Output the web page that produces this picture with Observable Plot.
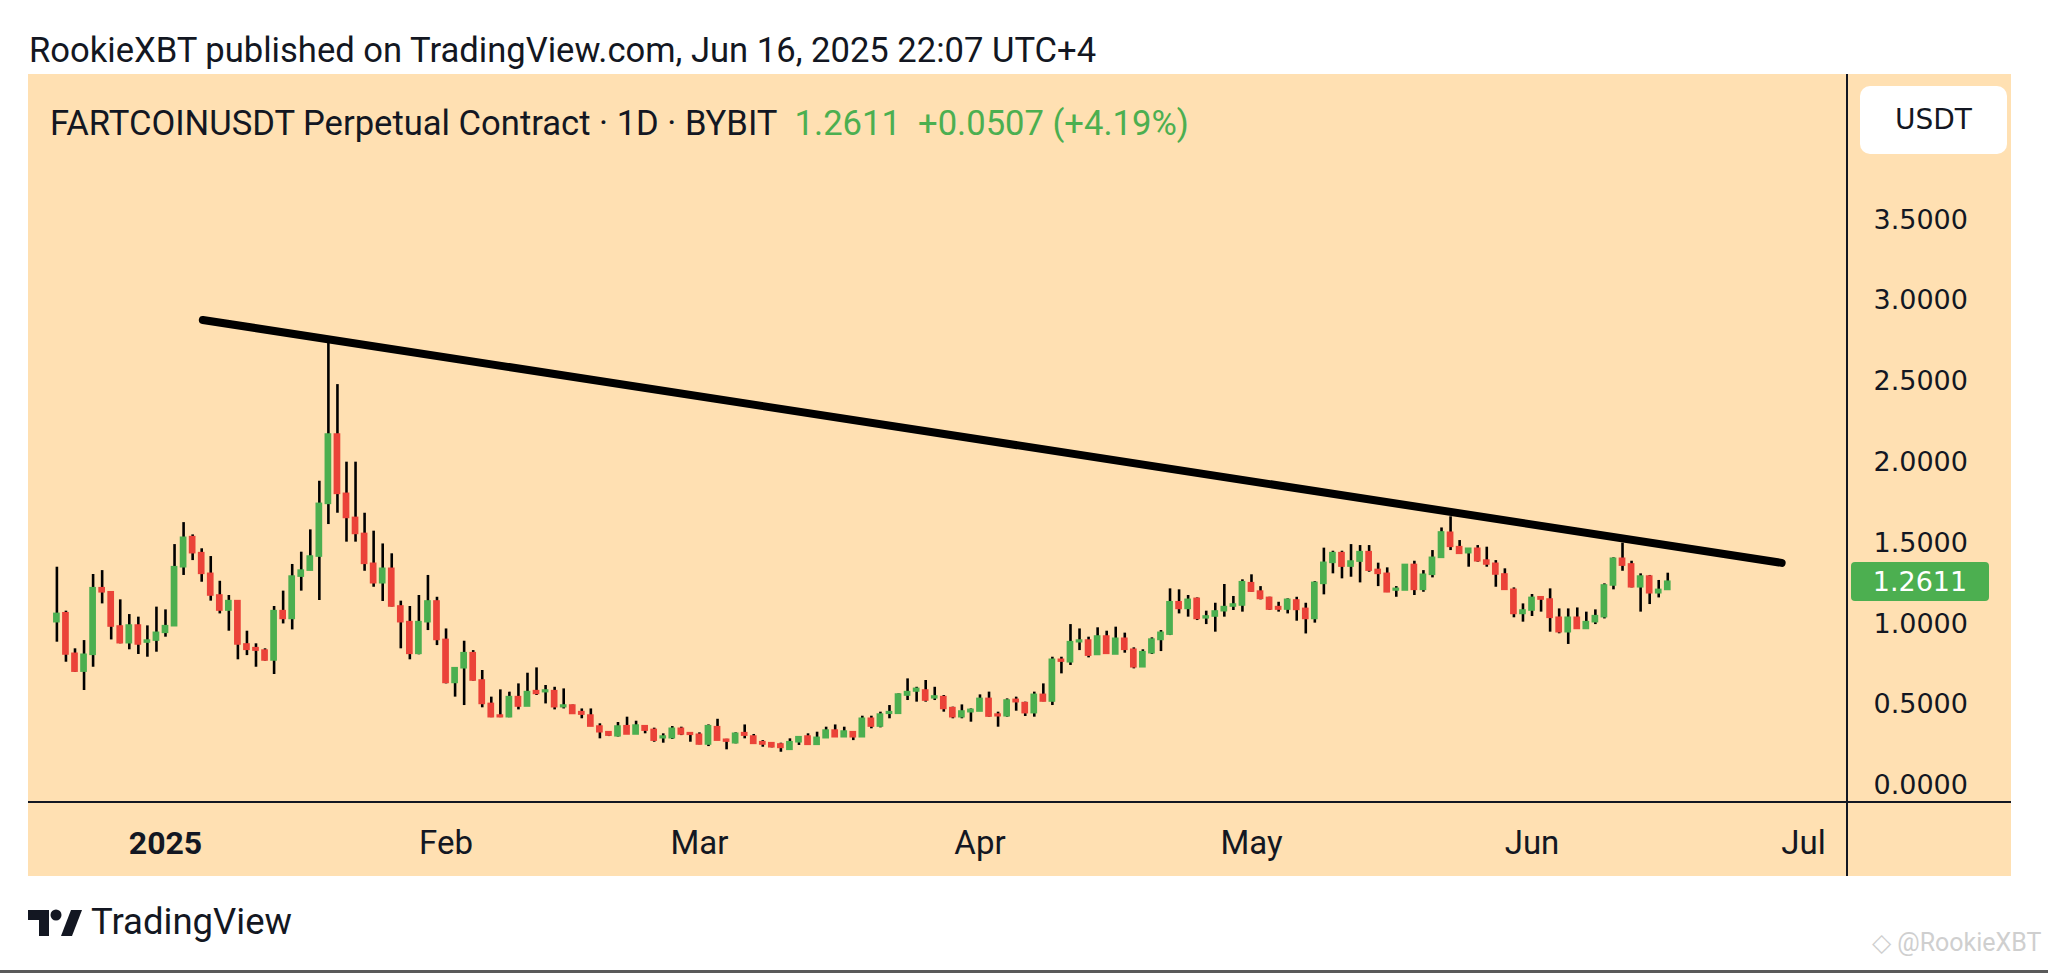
<!DOCTYPE html>
<html><head><meta charset="utf-8">
<script src="https://cdn.jsdelivr.net/npm/d3@7"></script>
<script src="https://cdn.jsdelivr.net/npm/@observablehq/plot@0.6"></script>
<style>
html,body{margin:0;padding:0;background:#fff;}
#root{position:relative;width:2048px;height:973px;overflow:hidden;font-family:Roboto,"Liberation Sans",sans-serif;color:#131722;}
.abs{position:absolute;white-space:nowrap;}
</style></head><body><div id="root"></div>
<script>
// ---- data ----
const startDate = "2024-12-20"; // first daily candle
const open = [1.011,1.066,0.815,0.705,0.809,1.221,1.196,0.984,0.881,0.990,0.885,0.897,0.945,0.986,1.351,1.537,1.438,1.310,1.176,1.083,1.141,0.873,0.850,0.835,0.774,1.079,1.031,1.293,1.330,1.417,
1.743,2.172,1.805,1.656,1.557,1.372,1.252,1.341,1.108,1.011,0.815,1.011,1.139,0.901,0.635,0.726,0.819,0.650,0.505,0.433,0.423,0.547,0.489,0.584,0.578,0.584,0.485,0.495,0.454,0.433,
0.365,0.330,0.305,0.367,0.316,0.367,0.344,0.293,0.293,0.351,0.324,0.314,0.254,0.361,0.283,0.262,0.324,0.303,0.268,0.262,0.254,0.221,0.268,0.303,0.252,0.293,0.340,0.299,0.330,0.299,
0.413,0.365,0.444,0.444,0.557,0.582,0.588,0.540,0.547,0.479,0.423,0.454,0.458,0.536,0.439,0.429,0.530,0.510,0.448,0.561,0.520,0.778,0.763,0.887,0.897,0.808,0.922,0.811,0.908,0.840,
0.732,0.819,0.901,0.934,1.134,1.093,1.155,1.035,1.046,1.079,1.108,1.114,1.252,1.200,1.161,1.104,1.089,1.145,1.093,1.031,1.248,1.378,1.438,1.355,1.386,1.444,1.334,1.310,1.207,1.207,
1.365,1.211,1.304,1.409,1.564,1.475,1.438,1.465,1.392,1.372,1.306,1.211,1.062,1.083,1.165,1.151,1.038,0.949,1.038,0.969,1.011,1.042,1.238,1.403,1.368,1.227,1.293,1.190,1.2104];
const high = [1.351,1.079,0.846,0.897,1.306,1.330,1.200,1.149,1.058,1.042,0.988,1.104,1.087,1.491,1.627,1.551,1.465,1.417,1.264,1.176,1.145,0.955,0.877,0.846,1.108,1.203,1.368,1.444,1.582,1.883,
2.737,2.481,2.001,2.001,1.685,1.574,1.495,1.434,1.141,1.108,1.176,1.300,1.165,0.969,0.726,0.893,0.835,0.712,0.547,0.592,0.578,0.629,0.695,0.728,0.619,0.608,0.598,0.498,0.474,0.474,
0.382,0.333,0.390,0.423,0.398,0.370,0.355,0.320,0.365,0.361,0.327,0.326,0.375,0.410,0.286,0.326,0.375,0.316,0.278,0.265,0.262,0.289,0.303,0.320,0.330,0.361,0.375,0.361,0.333,0.429,
0.429,0.454,0.495,0.567,0.660,0.608,0.650,0.608,0.557,0.485,0.499,0.474,0.561,0.578,0.454,0.536,0.547,0.516,0.578,0.629,0.794,0.794,0.996,0.969,0.918,0.976,0.955,0.980,0.943,0.852,
0.840,0.914,0.959,1.217,1.211,1.176,1.161,1.079,1.128,1.244,1.170,1.273,1.304,1.231,1.165,1.134,1.155,1.165,1.128,1.262,1.469,1.450,1.450,1.491,1.485,1.485,1.376,1.347,1.231,1.365,
1.388,1.330,1.454,1.594,1.663,1.516,1.465,1.485,1.475,1.392,1.341,1.223,1.124,1.182,1.168,1.217,1.093,1.093,1.099,1.073,1.087,1.248,1.409,1.500,1.388,1.310,1.300,1.269,1.314];
const low = [0.887,0.763,0.700,0.588,0.732,1.124,0.901,0.877,0.840,0.811,0.794,0.825,0.918,0.986,1.300,1.392,1.258,1.141,1.062,0.955,0.778,0.804,0.732,0.770,0.687,1.000,0.963,1.203,1.330,1.145,
1.615,1.685,1.506,1.506,1.326,1.227,1.139,1.105,0.846,0.778,0.809,0.959,0.866,0.629,0.547,0.495,0.646,0.481,0.420,0.420,0.420,0.468,0.489,0.557,0.505,0.468,0.474,0.440,0.413,0.365,
0.289,0.303,0.300,0.316,0.316,0.320,0.268,0.262,0.285,0.309,0.268,0.252,0.241,0.278,0.221,0.258,0.289,0.258,0.237,0.233,0.206,0.221,0.248,0.252,0.252,0.293,0.299,0.299,0.278,0.299,
0.351,0.357,0.413,0.444,0.526,0.516,0.516,0.526,0.454,0.413,0.413,0.392,0.458,0.423,0.361,0.423,0.460,0.427,0.423,0.518,0.495,0.691,0.743,0.835,0.790,0.808,0.813,0.811,0.819,0.722,
0.732,0.811,0.829,0.928,1.062,1.042,1.021,0.996,0.949,1.042,1.083,1.073,1.196,1.149,1.083,1.073,1.062,1.017,0.938,1.005,1.180,1.310,1.279,1.289,1.254,1.320,1.231,1.194,1.165,1.207,
1.176,1.196,1.285,1.409,1.454,1.432,1.351,1.382,1.351,1.227,1.209,1.038,1.011,1.046,1.073,0.949,0.939,0.873,0.967,0.969,0.996,1.031,1.211,1.326,1.223,1.073,1.120,1.161,1.207];
const close = [1.062,0.811,0.705,0.809,1.221,1.196,0.984,0.881,0.990,0.873,0.897,0.945,0.986,1.351,1.533,1.438,1.310,1.176,1.083,1.141,0.873,0.840,0.835,0.774,1.079,1.031,1.293,1.330,1.417,1.743,
2.172,1.805,1.656,1.557,1.372,1.252,1.341,1.108,1.011,0.815,1.011,1.139,0.901,0.635,0.726,0.819,0.650,0.505,0.423,0.423,0.547,0.489,0.578,0.567,0.588,0.485,0.495,0.443,0.439,0.365,
0.330,0.309,0.365,0.316,0.371,0.340,0.278,0.303,0.351,0.316,0.314,0.254,0.367,0.278,0.272,0.320,0.309,0.258,0.254,0.237,0.233,0.268,0.299,0.252,0.295,0.340,0.299,0.334,0.299,0.413,
0.365,0.439,0.454,0.563,0.578,0.598,0.526,0.551,0.474,0.423,0.458,0.468,0.536,0.427,0.429,0.526,0.516,0.448,0.561,0.520,0.778,0.767,0.887,0.897,0.804,0.922,0.815,0.908,0.840,0.732,
0.825,0.903,0.945,1.134,1.093,1.149,1.031,1.046,1.077,1.104,1.120,1.258,1.200,1.155,1.089,1.089,1.149,1.087,1.031,1.254,1.378,1.438,1.355,1.386,1.444,1.330,1.310,1.196,1.217,1.365,
1.211,1.304,1.409,1.566,1.477,1.434,1.465,1.388,1.368,1.306,1.211,1.062,1.083,1.161,1.151,1.038,0.949,1.038,0.969,1.011,1.048,1.238,1.403,1.361,1.227,1.293,1.190,1.2104,1.2611];
const tickDates = ["2025-01-01","2025-02-01","2025-03-01","2025-04-01","2025-05-01","2025-06-01","2025-07-01"];
const tickLabels = ["2025","Feb","Mar","Apr","May","Jun","Jul"];
const yTicks = [0,0.5,1,1.5,2,2.5,3,3.5];
const trendDates = ["2025-01-05T03:00:00Z","2025-06-28T14:00:00Z"];
const trendPrices = [2.881,1.378];
const lastPrice = 1.2611, change = 0.0507, changePct = 4.19;

// ---- build ----
const GREEN = "#4CAF50", RED = "#EB4339", BG = "#FFE0B2", INK = "#131722";
const DAY = 864e5;
const candles = open.map((o,i)=>({date: d3.utcDay.offset(new Date(startDate), i), open:o, high:high[i], low:low[i], close:close[i]}));
const trend = trendDates.map((d,i)=>({date:new Date(d), price:trendPrices[i]}));
const xt = tickDates.map((d,i)=>({date:new Date(d), label:tickLabels[i]}));
const half = 0.37*DAY;

const root = document.getElementById("root");
function el(html, css){const d=document.createElement("div");d.className="abs";d.innerHTML=html;Object.assign(d.style,css);root.appendChild(d);return d;}

el("RookieXBT published on TradingView.com, Jun 16, 2025 22:07 UTC+4",{left:"29px",top:"29px",fontSize:"34.6px",lineHeight:"42px"});

const panel = el("",{left:"28px",top:"74px",width:"1983px",height:"802px",background:BG});

const W=1983,H=802;
const jan1 = Date.UTC(2025,0,1);
const chart = Plot.plot({
  width:W, height:H, marginLeft:0, marginRight:164, marginTop:0, marginBottom:74,
  x:{type:"utc", domain:[new Date(jan1-15.138*DAY), new Date(jan1+185.86*DAY)], axis:null},
  y:{domain:[-0.105,4.400], axis:null},
  style:{background:"transparent", fontFamily:"Roboto, sans-serif", overflow:"visible"},
  marks:[
    Plot.ruleX(candles,{x:"date", y1:"low", y2:"high", stroke:"#000", strokeWidth:2.6}),
    Plot.rect(candles,{x1:d=>new Date(+d.date-half), x2:d=>new Date(+d.date+half),
      y1:d=>Math.min(d.open,d.close), y2:d=>Math.max(d.open,d.close),
      fill:d=>d.close>=d.open?GREEN:RED, insetTop:-0.8, insetBottom:-0.8}),
    Plot.line(trend,{x:"date", y:"price", stroke:"#000", strokeWidth:8, strokeLinecap:"round"}),
    Plot.text(yTicks,{y:d=>d, frameAnchor:"right", dx:26, textAnchor:"start", text:d=>d3.format(".4f")(d),
      fontSize:27, fontFamily:"DejaVu Sans", fill:INK}),
    Plot.text(xt.slice(1),{x:"date", frameAnchor:"bottom", dy:51, text:"label", fontSize:33, fill:INK}),
    Plot.text(xt.slice(0,1),{x:"date", frameAnchor:"bottom", dy:51, text:"label", fontSize:32, fontWeight:"bold", fill:INK})
  ]
});
chart.style.position="absolute"; chart.style.left="0"; chart.style.top="0";
panel.appendChild(chart);

// frame lines
el("",{left:"28px",top:"801px",width:"1983px",height:"2px",background:INK});
el("",{left:"1846px",top:"74px",width:"2px",height:"802px",background:INK});

// title
el(`FARTCOINUSDT Perpetual Contract · 1D · BYBIT&nbsp; <span style="color:${GREEN}">${lastPrice.toFixed(4)}&nbsp; +${change.toFixed(4)} (+${changePct.toFixed(2)}%)</span>`,
  {left:"50px",top:"101px",fontSize:"34.6px",lineHeight:"44px"});

// USDT box
el("USDT",{left:"1860px",top:"86px",width:"147px",height:"68px",background:"#fff",borderRadius:"10px",
  fontFamily:"'DejaVu Sans'",fontSize:"28px",lineHeight:"68px",textAlign:"center"});

// last price label, positioned through the y scale
const yp = chart.scale("y").apply(lastPrice);
el(lastPrice.toFixed(4),{left:"1851px",top:(74+yp-19.5)+"px",width:"138px",height:"39px",background:GREEN,borderRadius:"4px",
  color:"#fff",fontFamily:"'DejaVu Sans'",fontSize:"27px",lineHeight:"39px",textAlign:"center"});

// footer logo
el(`<svg width="54" height="28" viewBox="0 0 54 28"><path d="M0 1H21V27H11V11H0Z" fill="${INK}"/><circle cx="28" cy="6" r="5.5" fill="${INK}"/><path d="M33 27L43 1H54L44 27Z" fill="${INK}"/></svg>`,
  {left:"28px",top:"909px",lineHeight:"0"});
el("TradingView",{left:"91px",top:"900px",fontSize:"36.5px",lineHeight:"44px"});
el("◇ @RookieXBT",{left:"1872px",top:"928px",fontSize:"25px",lineHeight:"30px",color:"#cfcfcf"});
el("",{left:"0",top:"970px",width:"2048px",height:"3px",background:"#5a5a5a"});
</script></body></html>
